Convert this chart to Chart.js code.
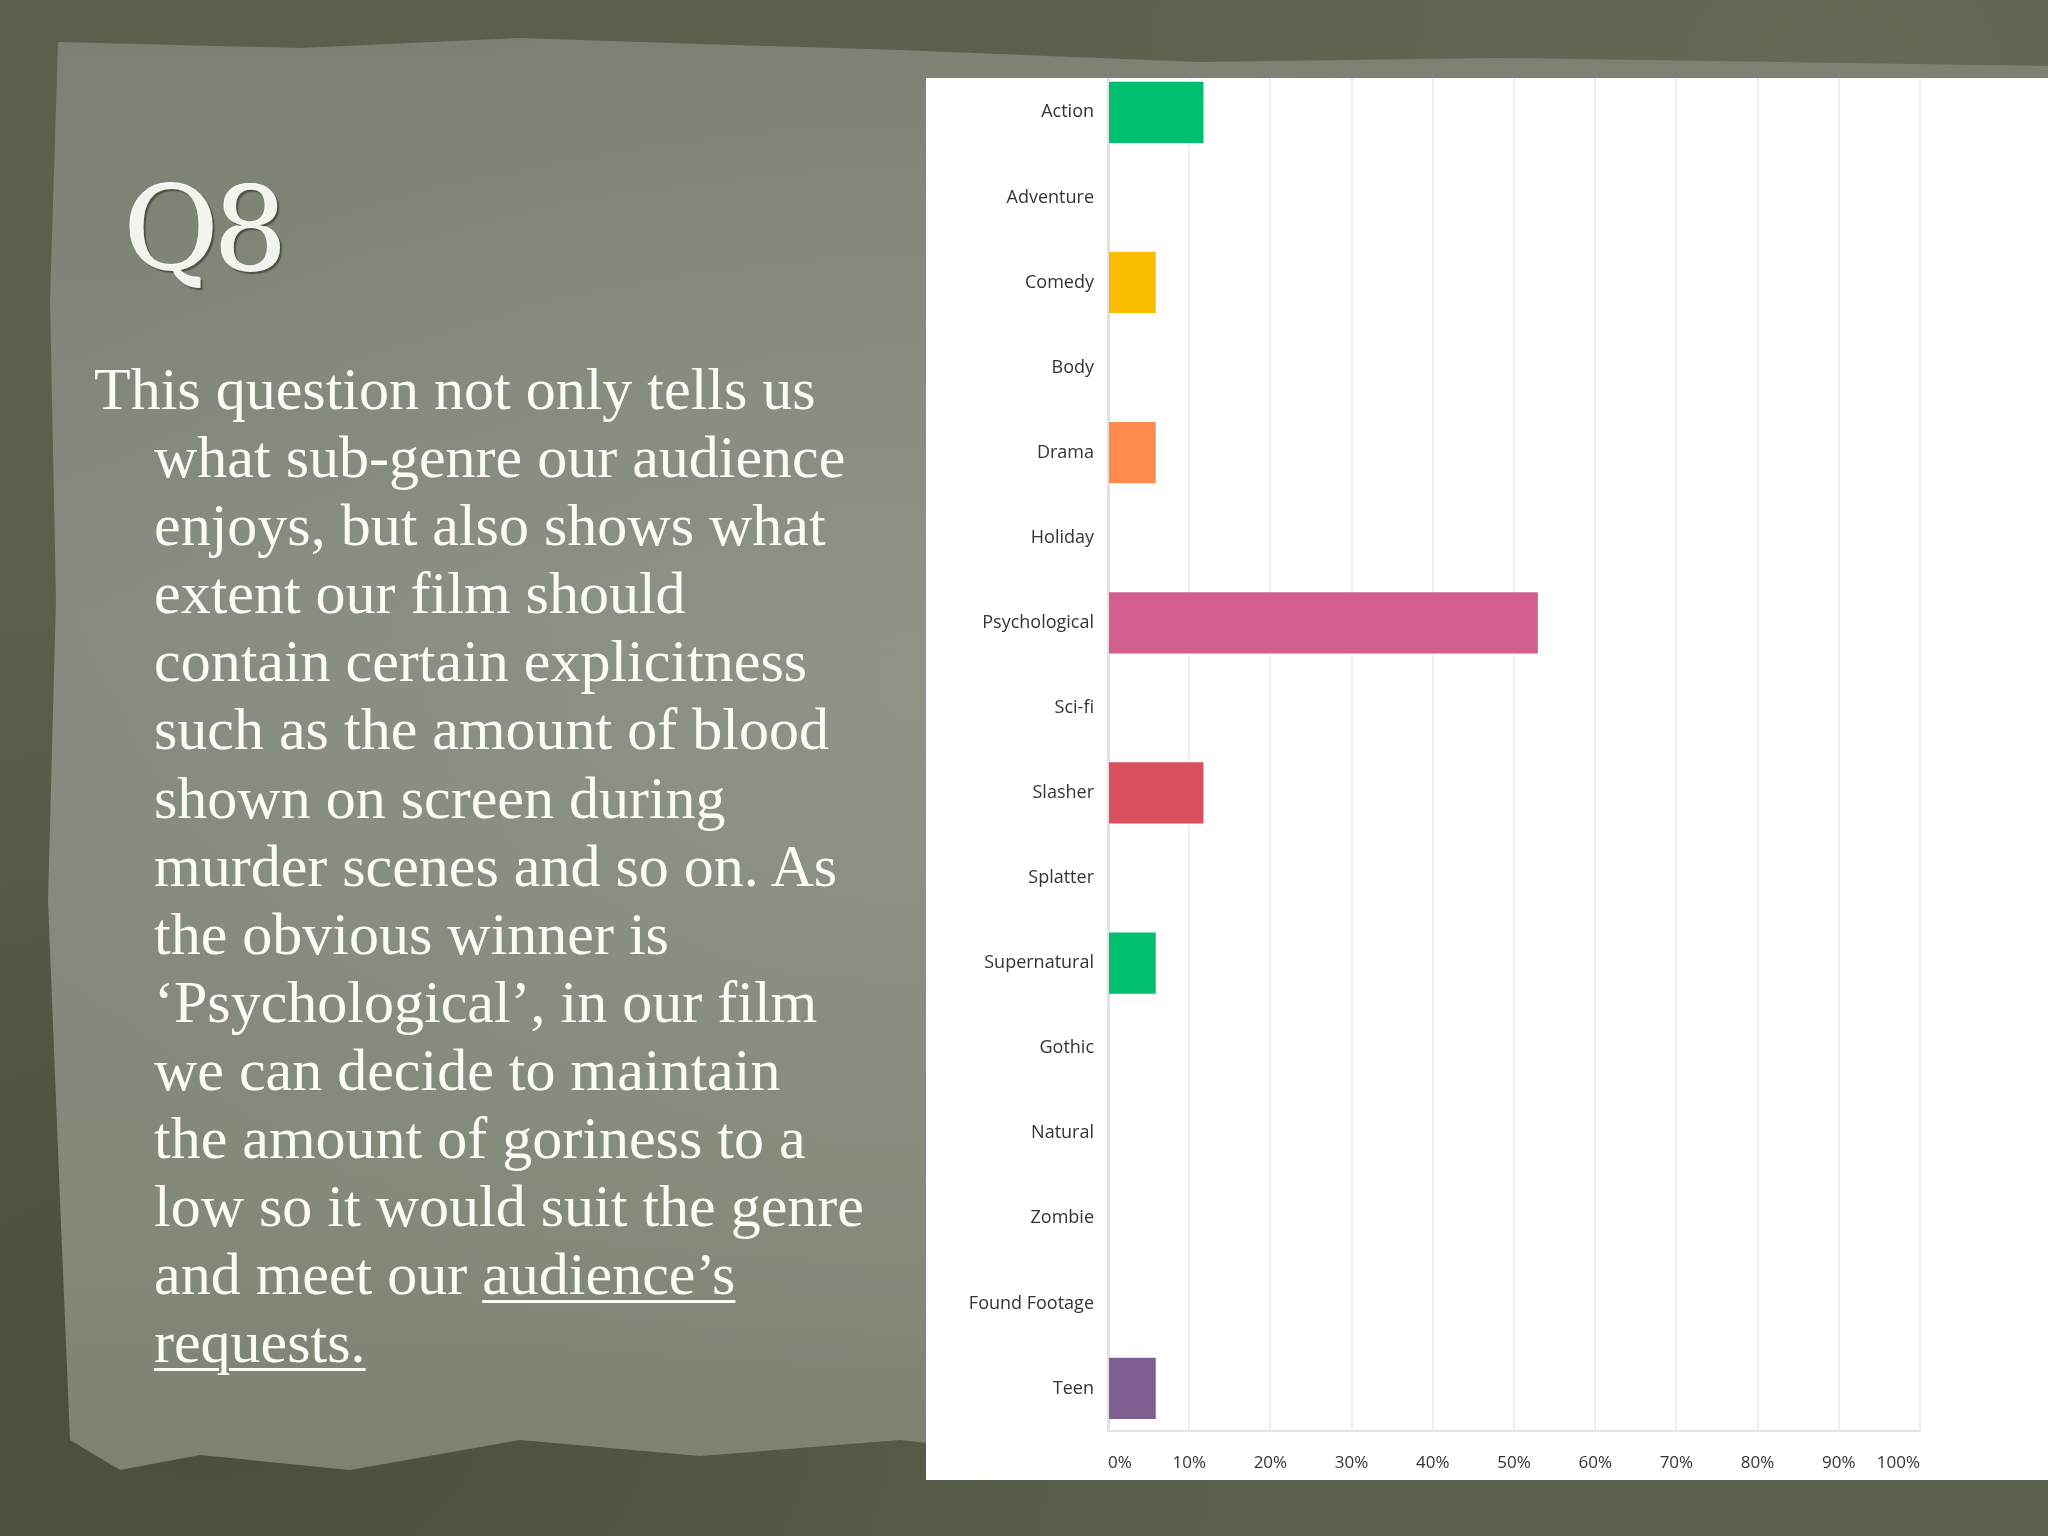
<!DOCTYPE html>
<html>
<head>
<meta charset="utf-8">
<script src="https://cdn.jsdelivr.net/npm/chart.js@4"></script>
<style>
  html, body { margin: 0; padding: 0; }
  body {
    width: 2048px; height: 1536px; position: relative; overflow: hidden;
    background:
      radial-gradient(ellipse at 10% 90%, rgba(40,45,30,0.35), transparent 40%),
      radial-gradient(ellipse at 90% 5%, rgba(110,118,95,0.45), transparent 35%),
      #59604c;
  }
  /* torn paper */
  .paper {
    position: absolute; left: 0; top: 0; width: 2048px; height: 1536px;
    background:
      radial-gradient(ellipse at 45% 45%, rgba(150,156,142,0.5), transparent 60%),
      linear-gradient(180deg, #7a8172 0%, #858b7e 40%, #828979 80%, #7a8171 100%);
    clip-path: polygon(58px 42px, 300px 48px, 520px 38px, 700px 44px, 900px 50px, 1200px 62px, 1500px 58px, 2048px 66px,
      2048px 1452px, 1700px 1458px, 1400px 1448px, 1100px 1462px, 900px 1440px, 700px 1456px, 520px 1440px, 350px 1470px,
      200px 1455px, 120px 1470px, 70px 1440px, 60px 1200px, 48px 900px, 56px 600px, 50px 300px);
  }
  .q8 {
    position: absolute; left: 124px; top: 172px;
    font-family: "DejaVu Serif", "Liberation Serif", serif; font-size: 116px; line-height: 1;
    color: #f3f3ee; letter-spacing: -5px;
    text-shadow: 2px 2px 1px #4d5244, -1px -1px 0 #ffffff;
  }
  .body-text {
    position: absolute; left: 0; top: 355px;
    font-family: "Liberation Serif", "DejaVu Serif", serif; font-size: 60px; line-height: 68.1px;
    color: #fbfbf4;
  }
  .body-text div { white-space: nowrap; margin-left: 154px; }
  .body-text div.first { margin-left: 94px; }
  .body-text u { text-decoration-thickness: 3px; text-underline-offset: 6px; }
  .panel {
    position: absolute; left: 926px; top: 78px; width: 1122px; height: 1402px;
    background: #ffffff; overflow: hidden;
  }
  .chart-box { position: absolute; left: 0; top: -33px; width: 1122px; height: 1435px; }
</style>
</head>
<body>
<div class="paper"></div>
<div class="q8">Q8</div>
<div class="body-text">
  <div class="first">This question not only tells us</div>
  <div>what sub-genre our audience</div>
  <div>enjoys, but also shows what</div>
  <div>extent our film should</div>
  <div>contain certain explicitness</div>
  <div>such as the amount of blood</div>
  <div>shown on screen during</div>
  <div>murder scenes and so on. As</div>
  <div>the obvious winner is</div>
  <div>‘Psychological’, in our film</div>
  <div>we can decide to maintain</div>
  <div>the amount of goriness to a</div>
  <div>low so it would suit the genre</div>
  <div>and meet our <u>audience’s</u></div>
  <div><u>requests.</u></div>
</div>
<div class="panel">
  <div class="chart-box"><canvas id="genreChart"></canvas></div>
</div>
<script>
// --- data: sub-genre answers (% of respondents) ---
const genres = ["Action", "Adventure", "Comedy", "Body", "Drama", "Holiday", "Psychological", "Sci-fi",
                "Slasher", "Splatter", "Supernatural", "Gothic", "Natural", "Zombie", "Found Footage", "Teen"];
const percents = [11.76, 0, 5.88, 0, 5.88, 0, 52.94, 0, 11.76, 0, 5.88, 0, 0, 0, 0, 5.88];
const barColors = ["#00bf6f", "#507cb6", "#f9be00", "#6bc8cd", "#ff8b4f", "#7f5f92", "#d25f90", "#c5c5c5",
                   "#d9505f", "#7a8b93", "#00bf6f", "#507cb6", "#f9be00", "#6bc8cd", "#ff8b4f", "#7f5f92"];
const xTicks = [0, 10, 20, 30, 40, 50, 60, 70, 80, 90, 100];

const ctx = document.getElementById('genreChart').getContext('2d');
new Chart(ctx, {
    type: 'bar',
    data: {
        labels: genres,
        datasets: [{
            data: percents,
            backgroundColor: barColors,
            borderWidth: 0,
            barPercentage: 0.72,
            categoryPercentage: 1.0
        }]
    },
    options: {
        indexAxis: 'y',
        responsive: true,
        maintainAspectRatio: false,
        animation: false,
        layout: { padding: { left: 0, right: 128, top: 0, bottom: 0 } },
        plugins: { legend: { display: false }, tooltip: { enabled: false } },
        scales: {
            x: {
                min: 0, max: 100,
                afterBuildTicks: axis => { axis.ticks = xTicks.map(v => ({ value: v })); },
                afterFit: axis => { axis.height = 49; },
                grid: { color: '#efeff2', lineWidth: 2, drawTicks: false },
                border: { display: true, color: '#e4e4e8', width: 2 },
                ticks: {
                    align: 'inner',
                    padding: 22,
                    color: '#333333',
                    font: { family: 'Open Sans', size: 17 },
                    callback: v => v + '%'
                }
            },
            y: {
                afterFit: axis => { axis.width = 182; },
                grid: { display: false, drawTicks: false },
                border: { display: true, color: '#e2e2e6', width: 3 },
                ticks: {
                    padding: 14,
                    color: '#333333',
                    font: { family: 'Open Sans', size: 18 }
                }
            }
        }
    }
});
</script>
</body>
</html>
